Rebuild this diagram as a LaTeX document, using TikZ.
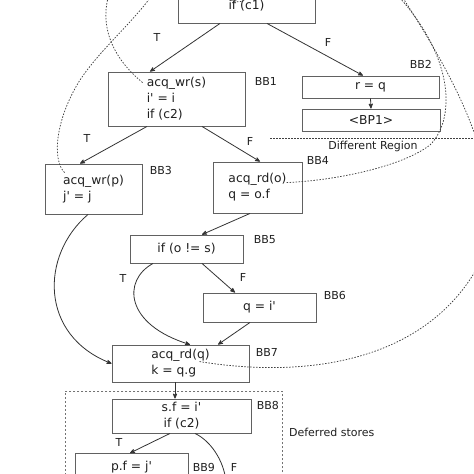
\documentclass[tikz,border=0pt]{standalone}
\usepackage{fontspec}
\newfontfamily\bbfont{DejaVu Sans}
\usetikzlibrary{arrows,calc,positioning}

\begin{document}
\begin{tikzpicture}[x=1pt, y=-1pt, >=stealth', line width=0.8pt]

%====Definizione stili blocchi================================================
	\tikzstyle{every node}=[text=black!88]
	\tikzstyle{blocco}=[draw=black!62, line width=0.9pt, inner sep=0pt, font=\bbfont\fontsize{12.3}{16}\selectfont]
	\tikzstyle{etich}=[anchor=west, inner sep=0pt, font=\bbfont\fontsize{11}{13}\selectfont]
	\tikzstyle{ramo}=[inner sep=0pt, font=\bbfont\fontsize{11}{13}\selectfont]
	\tikzstyle{freccia}=[->, draw=black!80]
	\tikzstyle{regione}=[draw=black!75, line width=0.75pt, dash pattern=on 1.5pt off 1.5pt]
	\tikzstyle{gruppo}=[draw=black!55, line width=0.7pt, dash pattern=on 2pt off 2pt, inner sep=0pt]

	\useasboundingbox (0,0) rectangle (474,474);

%====Definizione blocchi e posizione===========================================
	\node[blocco, minimum width=137pt, minimum height=42pt, align=center] (BB0) at (246.5,2) {\mbox{}\\if (c1)};
	\node[blocco, minimum width=137pt, minimum height=54pt, align=left]   (BB1) at (176.5,99) {acq\_wr(s)\\i' = i\\if (c2)};
	\node[blocco, minimum width=137pt, minimum height=22pt]               (BB2) at (370.5,87) {r = q};
	\node[blocco, minimum width=138pt, minimum height=22pt]               (BP1) at (371,120) {<BP1>};
	\node[blocco, minimum width=97pt, minimum height=50pt, align=left]    (BB3) at (93.5,189) {acq\_wr(p)\\j' = j};
	\node[blocco, minimum width=89pt, minimum height=51pt, align=left]    (BB4) at (257.5,187.5) {acq\_rd(o)\\q = o.f};
	\node[blocco, minimum width=113pt, minimum height=28pt]               (BB5) at (186.5,249) {if (o != s)};
	\node[blocco, minimum width=113pt, minimum height=29pt]               (BB6) at (259.5,307.5) {q = i'};
	\node[blocco, minimum width=137pt, minimum height=37pt, align=left]   (BB7) at (180.5,363.5) {acq\_rd(q)\\k = q.g};
	\node[gruppo, minimum width=217pt, minimum height=100pt, anchor=north west] (DS) at (65,391) {};
	\node[blocco, minimum width=139pt, minimum height=34pt, align=center] (BB8) at (181.5,416) {s.f = i'\\if (c2)};
	\node[blocco, minimum width=113pt, minimum height=40pt, align=center, anchor=north] (BB9) at (131.5,453) {p.f = j'\\\mbox{}};

%====Etichette blocchi=========================================================
	\node[etich] (lBB1) at ($(BB1.north east)+(9,10)$)   {BB1};
	\node[etich] (lBB2) at ($(BB2.north east)+(-30,-11)$) {BB2};
	\node[etich] (lBB3) at ($(BB3.north east)+(7,7)$)    {BB3};
	\node[etich] (lBB4) at ($(BB4.north east)+(4,-1)$)   {BB4};
	\node[etich] (lBB5) at ($(BB5.north east)+(10,5)$)   {BB5};
	\node[etich] (lBB6) at ($(BB6.north east)+(7,3)$)    {BB6};
	\node[etich] (lBB7) at ($(BB7.north east)+(6,8)$)    {BB7};
	\node[etich] (lBB8) at ($(BB8.north east)+(5,7)$)    {BB8};
	\node[etich] (lBB9) at ($(BB9.north east)+(4,14)$)   {BB9};
	\node[etich] (lDS)  at ($(DS.north east)+(6,41)$)    {Deferred stores};
	\node[ramo]  (lDR)  at (373,146)                     {Different Region};

%====Collegamenti e stile frecce================================================
	%from                           to
	\draw[freccia] ($(BB0.south)+(-26.5,0)$) -- ($(BB1.north)+(-26.5,0)$);
	\draw[freccia] ($(BB0.south)+(20.5,0)$)  -- ($(BB2.north)+(-7.5,0)$);
	\draw[freccia] (BB2.south)               -- (BP1.north);
	\draw[freccia] ($(BB1.south)+(-29.5,0)$) -- ($(BB3.north)+(-13.5,0)$);
	\draw[freccia] ($(BB1.south)+(25.5,0)$)  -- ($(BB4.north)+(2.5,0)$);
	\draw[freccia] ($(BB4.south)+(-7.5,0)$)  -- ($(BB5.north)+(15.5,0)$);
	\draw[freccia] ($(BB5.south)+(15.5,0)$)  -- ($(BB6.north)+(-24.5,0)$);
	\draw[freccia] ($(BB6.south)+(-9.5,0)$)  -- ($(BB7.north)+(37.5,0)$);
	\draw[freccia] ($(BB7.south)+(-5.5,0)$)  -- ($(BB8.north)+(-6.5,0)$);
	\draw[freccia] ($(BB8.south)+(-11.5,0)$) -- ($(BB9.north)+(-1.5,0)$);
	\draw[freccia] ($(BB3.south)+(-5.5,0)$)  .. controls +(-48,41) and +(-72,-28) .. (BB7.west);
	\draw[freccia] ($(BB5.south)+(-33.5,0)$) .. controls +(-31,17) and +(-65,-20) .. ($(BB7.north)+(9.5,0)$);
	\coordinate (fuori) at (226,482);
	\draw[draw=black!80] ($(BB8.south)+(13.5,0)$) .. controls +(15,7) and +(-2,-22) .. (fuori);

	\node[ramo] (t1) at (157,37)  {T};
	\node[ramo] (f1) at (328,42)  {F};
	\node[ramo] (t2) at (87,138)  {T};
	\node[ramo] (f2) at (250,141) {F};
	\node[ramo] (t3) at (123,278) {T};
	\node[ramo] (f3) at (243,277) {F};
	\node[ramo] (t4) at (119,442) {T};
	\node[ramo] (f4) at (234,467) {F};

%====Regioni tratteggiate=======================================================
	\coordinate (s1) at ($(BB1.north west)+(35,11)$);
	\coordinate (p1) at ($(BB3.north west)+(20,9)$);
	\coordinate (o1) at ($(BB4.north west)+(74,21)$);
	\coordinate (q1) at ($(BB7.north west)+(88,17)$);
	\coordinate (dr) at (270,138);
	\draw[regione] (s1) .. controls (115,60) and (100,30) .. (108,-2);
	\draw[regione] (p1) .. controls (52,160) and (55,120) .. (80,80) .. controls (100,50) and (130,25) .. (150,-2);
	\draw[regione] (o1) .. controls (330,181) and (400,168) .. (430,145) .. controls (455,120) and (455,60) .. (400,-2);
	\draw[regione] (403,-2) .. controls (430,40) and (460,90) .. (476,138);
	\draw[regione] (dr) -- (476,138);
	\draw[regione] (q1) .. controls (300,378) and (420,365) .. (476,270);
	\draw[regione] (229,-2) .. controls (232,3) and (244,3) .. (247,-2);
\end{tikzpicture}
\end{document}
